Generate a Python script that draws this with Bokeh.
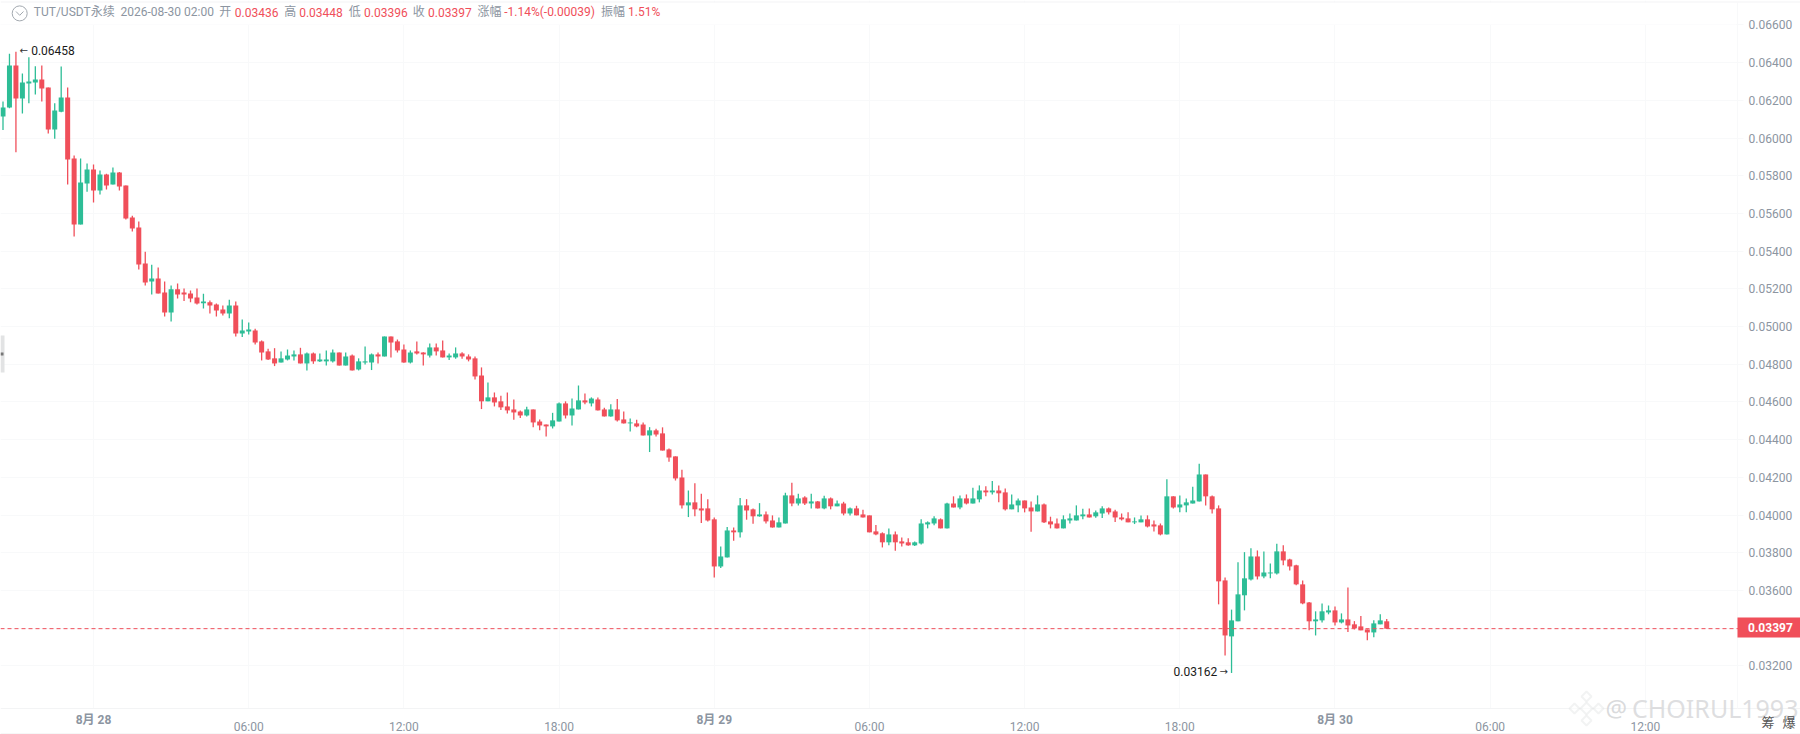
from bokeh.plotting import figure
from bokeh.embed import file_html
from bokeh.resources import INLINE
from bokeh.models import (ColumnDataSource, FixedTicker, LinearAxis, NumeralTickFormatter, Label,
                          Range1d, Span, BoxAnnotation, PolyAnnotation, Grid)

# ---- data: 15-minute candles ----
opens = [0.06114,0.06162,0.06385,0.06210,0.06289,0.06294,0.06310,0.06268,0.06045,0.06139,
0.06215,0.05891,0.05541,0.05759,0.05833,0.05722,0.05806,0.05753,0.05817,0.05748,
0.05578,0.05525,0.05334,0.05239,0.05255,0.05181,0.05074,0.05197,0.05181,0.05175,
0.05154,0.05124,0.05128,0.05117,0.05090,0.05069,0.05112,0.04963,0.04974,0.04979,
0.04921,0.04868,0.04831,0.04809,0.04825,0.04841,0.04852,0.04804,0.04857,0.04815,
0.04815,0.04815,0.04862,0.04793,0.04846,0.04772,0.04809,0.04809,0.04852,0.04841,
0.04947,0.04921,0.04878,0.04809,0.04868,0.04862,0.04846,0.04889,0.04873,0.04836,
0.04836,0.04857,0.04841,0.04831,0.04740,0.04603,0.04624,0.04603,0.04576,0.04560,
0.04549,0.04528,0.04560,0.04496,0.04480,0.04470,0.04496,0.04592,0.04528,0.04560,
0.04608,0.04592,0.04613,0.04560,0.04523,0.04560,0.04507,0.04486,0.04486,0.04480,
0.04422,0.04449,0.04433,0.04348,0.04311,0.04199,0.04051,0.04067,0.04035,0.04035,
0.03977,0.03727,0.03775,0.03918,0.03908,0.04051,0.04030,0.03993,0.04003,0.03971,
0.03934,0.03955,0.04104,0.04061,0.04093,0.04061,0.04072,0.04035,0.04088,0.04046,
0.04061,0.04008,0.04035,0.04003,0.03998,0.03913,0.03903,0.03855,0.03897,0.03860,
0.03855,0.03839,0.03849,0.03950,0.03955,0.03977,0.03929,0.04061,0.04040,0.04088,
0.04061,0.04083,0.04130,0.04120,0.04130,0.04120,0.04030,0.04051,0.04077,0.04040,
0.04019,0.04056,0.03966,0.03955,0.03929,0.03971,0.03971,0.03993,0.04003,0.03993,
0.04008,0.04035,0.04019,0.03987,0.03982,0.03961,0.03961,0.03977,0.03950,0.03945,
0.03897,0.04099,0.04040,0.04051,0.04061,0.04072,0.04215,0.04099,0.04035,0.03653,
0.03356,0.03436,0.03574,0.03658,0.03780,0.03674,0.03690,0.03690,0.03807,0.03764,
0.03733,0.03632,0.03536,0.03436,0.03441,0.03483,0.03494,0.03430,0.03446,0.03420,
0.03409,0.03393,0.03377,0.03420,0.03436]

highs = [0.06194,0.06447,0.06458,0.06342,0.06429,0.06381,0.06385,0.06268,0.06185,0.06379,
0.06268,0.05907,0.05891,0.05865,0.05860,0.05828,0.05810,0.05844,0.05819,0.05748,
0.05587,0.05557,0.05396,0.05327,0.05313,0.05239,0.05218,0.05228,0.05202,0.05191,
0.05202,0.05174,0.05138,0.05122,0.05112,0.05142,0.05133,0.05037,0.05021,0.04988,
0.04926,0.04882,0.04885,0.04868,0.04878,0.04873,0.04887,0.04862,0.04862,0.04857,
0.04873,0.04878,0.04862,0.04862,0.04852,0.04831,0.04894,0.04857,0.04862,0.04947,
0.04947,0.04931,0.04905,0.04873,0.04921,0.04864,0.04910,0.04910,0.04926,0.04857,
0.04889,0.04864,0.04852,0.04841,0.04783,0.04703,0.04650,0.04633,0.04650,0.04613,
0.04555,0.04574,0.04560,0.04507,0.04480,0.04542,0.04597,0.04603,0.04618,0.04687,
0.04645,0.04624,0.04624,0.04569,0.04587,0.04615,0.04549,0.04512,0.04505,0.04491,
0.04466,0.04458,0.04465,0.04353,0.04311,0.04240,0.04130,0.04168,0.04113,0.04084,
0.03987,0.03833,0.03936,0.03934,0.04090,0.04084,0.04035,0.04063,0.04019,0.03998,
0.03987,0.04118,0.04171,0.04113,0.04100,0.04113,0.04074,0.04102,0.04093,0.04077,
0.04070,0.04040,0.04049,0.04028,0.03998,0.03947,0.03908,0.03929,0.03913,0.03881,
0.03876,0.03860,0.03977,0.03966,0.03993,0.03982,0.04065,0.04099,0.04104,0.04109,
0.04145,0.04157,0.04152,0.04180,0.04157,0.04141,0.04109,0.04088,0.04077,0.04072,
0.04104,0.04061,0.03991,0.03982,0.03998,0.04008,0.04051,0.04033,0.04035,0.04024,
0.04046,0.04040,0.04028,0.04008,0.04014,0.03987,0.03998,0.03998,0.03971,0.03955,
0.04189,0.04099,0.04104,0.04088,0.04150,0.04272,0.04215,0.04104,0.04051,0.03669,
0.03498,0.03749,0.03803,0.03823,0.03812,0.03807,0.03743,0.03847,0.03839,0.03768,
0.03736,0.03653,0.03538,0.03489,0.03531,0.03520,0.03515,0.03478,0.03616,0.03437,
0.03464,0.03393,0.03441,0.03473,0.03448]

lows = [0.06043,0.06158,0.05925,0.06130,0.06185,0.06231,0.06194,0.06024,0.05996,0.06137,
0.05753,0.05478,0.05541,0.05715,0.05658,0.05700,0.05727,0.05753,0.05722,0.05568,
0.05504,0.05303,0.05218,0.05170,0.05175,0.05053,0.05027,0.05149,0.05135,0.05128,
0.05117,0.05096,0.05069,0.05053,0.05059,0.05044,0.04947,0.04944,0.04958,0.04905,
0.04820,0.04822,0.04790,0.04809,0.04820,0.04820,0.04804,0.04767,0.04802,0.04812,
0.04793,0.04809,0.04793,0.04793,0.04767,0.04767,0.04799,0.04769,0.04804,0.04841,
0.04836,0.04862,0.04808,0.04804,0.04852,0.04793,0.04836,0.04846,0.04836,0.04822,
0.04829,0.04829,0.04815,0.04719,0.04562,0.04603,0.04576,0.04557,0.04539,0.04505,
0.04514,0.04523,0.04465,0.04449,0.04417,0.04459,0.04496,0.04512,0.04475,0.04560,
0.04587,0.04576,0.04555,0.04523,0.04521,0.04496,0.04486,0.04443,0.04465,0.04422,
0.04334,0.04417,0.04342,0.04282,0.04183,0.04035,0.03989,0.03994,0.03957,0.03966,
0.03669,0.03719,0.03775,0.03864,0.03881,0.03975,0.03954,0.03991,0.03955,0.03933,
0.03934,0.03955,0.04046,0.04051,0.04053,0.04035,0.04035,0.04030,0.04030,0.04046,
0.03998,0.03998,0.03998,0.03987,0.03908,0.03892,0.03828,0.03839,0.03811,0.03833,
0.03837,0.03835,0.03844,0.03929,0.03945,0.03929,0.03929,0.04040,0.04030,0.04056,
0.04061,0.04067,0.04099,0.04109,0.04067,0.04024,0.04030,0.04014,0.04014,0.03911,
0.04019,0.03957,0.03929,0.03929,0.03929,0.03955,0.03971,0.03978,0.03987,0.03985,
0.03984,0.04003,0.03963,0.03971,0.03961,0.03952,0.03961,0.03934,0.03913,0.03892,
0.03897,0.04035,0.04014,0.04014,0.04061,0.04072,0.04051,0.04008,0.03526,0.03254,
0.03162,0.03436,0.03494,0.03653,0.03658,0.03664,0.03664,0.03685,0.03733,0.03706,
0.03627,0.03526,0.03388,0.03361,0.03430,0.03473,0.03414,0.03425,0.03379,0.03393,
0.03388,0.03335,0.03351,0.03420,0.03396]

closes = [0.06162,0.06385,0.06210,0.06294,0.06300,0.06310,0.06263,0.06045,0.06146,0.06215,
0.05886,0.05541,0.05764,0.05833,0.05722,0.05806,0.05748,0.05817,0.05743,0.05573,
0.05520,0.05329,0.05234,0.05255,0.05175,0.05074,0.05197,0.05170,0.05170,0.05149,
0.05122,0.05133,0.05112,0.05085,0.05069,0.05112,0.04963,0.04979,0.04984,0.04915,
0.04862,0.04825,0.04804,0.04831,0.04846,0.04852,0.04804,0.04857,0.04815,0.04825,
0.04825,0.04862,0.04793,0.04841,0.04767,0.04815,0.04815,0.04852,0.04841,0.04947,
0.04915,0.04873,0.04809,0.04862,0.04857,0.04852,0.04889,0.04868,0.04836,0.04846,
0.04857,0.04841,0.04825,0.04735,0.04603,0.04624,0.04597,0.04571,0.04555,0.04544,
0.04528,0.04560,0.04491,0.04475,0.04470,0.04502,0.04592,0.04528,0.04565,0.04608,
0.04597,0.04618,0.04555,0.04523,0.04560,0.04502,0.04486,0.04491,0.04470,0.04422,
0.04449,0.04427,0.04342,0.04305,0.04194,0.04051,0.04067,0.04030,0.04024,0.03971,
0.03727,0.03780,0.03918,0.03908,0.04051,0.04024,0.03993,0.04003,0.03966,0.03934,
0.03961,0.04104,0.04061,0.04088,0.04061,0.04072,0.04035,0.04088,0.04046,0.04061,
0.04008,0.04035,0.03998,0.03987,0.03908,0.03897,0.03855,0.03897,0.03855,0.03849,
0.03839,0.03855,0.03955,0.03961,0.03982,0.03929,0.04061,0.04040,0.04088,0.04061,
0.04088,0.04130,0.04120,0.04130,0.04115,0.04030,0.04056,0.04077,0.04035,0.04019,
0.04056,0.03961,0.03950,0.03929,0.03977,0.03982,0.03998,0.04003,0.03987,0.04014,
0.04035,0.04014,0.03987,0.03977,0.03961,0.03966,0.03977,0.03939,0.03939,0.03897,
0.04099,0.04040,0.04056,0.04067,0.04077,0.04215,0.04099,0.04030,0.03648,0.03361,
0.03441,0.03579,0.03664,0.03780,0.03674,0.03695,0.03695,0.03807,0.03759,0.03727,
0.03632,0.03531,0.03436,0.03446,0.03489,0.03494,0.03430,0.03446,0.03414,0.03399,
0.03388,0.03377,0.03425,0.03441,0.03397]

price_ticks = [0.032,0.034,0.036,0.038,0.040,0.042,0.044,0.046,0.048,0.050,0.052,0.054,0.056,0.058,0.060,0.062,0.064,0.066]
time_tick_idx = [38, 62, 86, 134, 158, 182, 230, 254]
time_tick_labels = ["06:00", "12:00", "18:00", "06:00", "12:00", "18:00", "06:00", "12:00"]
day_tick_idx = [14, 110, 206]
day_tick_labels = ["8月 28", "8月 29", "8月 30"]

header_texts = ["TUT/USDT永续", "2026-08-30 02:00", "开", "0.03436", "高", "0.03448", "低", "0.03396",
                "收", "0.03397", "涨幅", "-1.14%(-0.00039)", "振幅", "1.51%"]

# ---- style ----
RED = "#f04f5a"
GREEN = "#2dbd96"
GRID = "#f8f9fa"
TXT = "#8c95a1"
FONT = "Roboto, 'Noto Sans CJK SC', sans-serif"
W, H = 1800, 734
FRAME_R, FRAME_T, FRAME_B = 1737, 2, 708
X0, DX = 2.5, 6.466            # pixel of the first candle, pixels per candle
Y_TOP_PX, Y_TOP_V, PX_PER_UNIT = 24.4, 0.066, 18850.0

def px2x(px):
    return (px - X0) / DX

def px2y(py):
    return Y_TOP_V - (py - Y_TOP_PX) / PX_PER_UNIT

idx = list(range(len(closes)))
colors = [GREEN if c >= o else RED for o, c in zip(opens, closes)]
src = ColumnDataSource(dict(i=idx, o=opens, h=highs, l=lows, c=closes, col=colors,
                            top=[max(a, b) for a, b in zip(opens, closes)],
                            bot=[min(a, b) for a, b in zip(opens, closes)]))

# the frame fills the page; the axes are pinned inside it so that nothing outside the plot area is clipped
p = figure(width=W, height=H, output_backend="svg", toolbar_location=None,
           x_range=Range1d(px2x(0), px2x(W)), y_range=Range1d(px2y(H), px2y(0)),
           x_axis_type=None, y_axis_type=None, min_border=0,
           background_fill_color="white", border_fill_color="white", outline_line_color=None)

ax = LinearAxis(fixed_location=px2y(FRAME_B), ticker=FixedTicker(ticks=time_tick_idx))
ax.major_label_overrides = {i: t for i, t in zip(time_tick_idx, time_tick_labels)}
ax.major_tick_line_color = None
ax.minor_tick_line_color = None
ax.axis_line_color = "#f3f4f5"
ax.major_label_text_color = TXT
ax.major_label_text_font = FONT
ax.major_label_text_font_size = "12px"
ax.major_label_standoff = 5
p.add_layout(ax, "below")

ay = LinearAxis(fixed_location=px2x(FRAME_R), ticker=FixedTicker(ticks=price_ticks),
                formatter=NumeralTickFormatter(format="0.00000"), bounds=(px2y(FRAME_B), px2y(FRAME_T)))
ay.axis_line_color = GRID
ay.major_tick_line_color = GRID
ay.major_tick_in = 0
ay.major_tick_out = 6
ay.minor_tick_line_color = None
ay.major_label_text_color = TXT
ay.major_label_text_font = FONT
ay.major_label_text_font_size = "12px"
ay.major_label_standoff = 5
p.add_layout(ay, "right")

p.add_layout(Grid(dimension=0, ticker=FixedTicker(ticks=sorted(time_tick_idx + day_tick_idx)), grid_line_color=GRID))
p.add_layout(Grid(dimension=1, ticker=FixedTicker(ticks=price_ticks), grid_line_color=GRID))

# white bands that end the grid at the axes
p.quad(left=[px2x(0), px2x(FRAME_R)], right=[px2x(W), px2x(W)], top=[px2y(FRAME_B), px2y(0)],
       bottom=[px2y(H), px2y(H)], fill_color="white", line_color=None)

# candles
p.segment(x0="i", x1="i", y0="l", y1="h", color="col", line_width=1.3, source=src)
p.vbar(x="i", width=5.0 / DX, top="top", bottom="bot", fill_color="col", line_color=None, source=src)

# last price
p.add_layout(Span(location=closes[-1], dimension="width", line_color=RED, line_width=1, line_dash="4 3"))

def box(l, r, t, b, color):
    p.add_layout(BoxAnnotation(left=l, right=r, top=t, bottom=b, left_units="canvas", right_units="canvas",
                               top_units="canvas", bottom_units="canvas", fill_color=color, fill_alpha=1,
                               line_color=None))

# header band, frame lines, price tag, left handle
box(0, FRAME_R - 1, 2, 24, "white")
box(0, W, 1, 2, "#f3f4f5")
box(0, W, 733, 734, "#eeeff0")
box(1737, W, 617, 637, RED)
box(0, 4, 335, 372, "#e2e3e4")
box(0, 3, 352, 355, "#777777")

def label(x, y, text, color=TXT, size="12px", style="normal", align="left", font=FONT, alpha=1.0):
    p.add_layout(Label(x=px2x(x), y=px2y(y), text=text, text_color=color, text_font_size=size,
                       text_font_style=style, text_align=align, text_baseline="middle",
                       text_font=font, text_alpha=alpha))

# header
header_x = [33.3, 120, 218.7, 234.3, 283.7, 298.7, 348.3, 363.6, 412.3, 427.5, 477, 503.7, 600.6, 627.6]
for k, (tx, hx) in enumerate(zip(header_texts, header_x)):
    col = RED if k in (3, 5, 7, 9, 11, 13) else TXT
    label(hx, 11.5, tx, color=col)

# header icon
p.scatter(x=[px2x(19.2)], y=[px2y(12.9)], size=15, marker="circle", fill_color=None, line_color="#a3a9b0", line_width=1, level="overlay")
p.line(x=[px2x(15.5), px2x(19.2), px2x(23)], y=[px2y(11), px2y(14.8), px2y(11)], line_color="#a3a9b0", line_width=1, level="overlay")

# extremes
label(30.7, 49.7, "0.06458", color="#1a1a1a")
label(19, 50, "←", color="#333333", size="10px", font="DejaVu Sans")
label(1173, 670.7, "0.03162", color="#1a1a1a")
label(1219, 671, "→", color="#333333", size="10px", font="DejaVu Sans")

# price tag text
label(1747.5, 627, "0.03397", color="white", style="bold")

# day labels on the time axis
for d, t in zip(day_tick_idx, day_tick_labels):
    p.add_layout(Label(x=d, y=px2y(719), text=t, text_color=TXT, text_font=FONT, text_font_size="12px",
                       text_font_style="bold", text_align="center", text_baseline="middle"))

# watermark
WM = "#d5d6d8"
for cx, cy, r in [(1586, 708, 6), (1586, 696, 5), (1586, 720, 5), (1574, 708, 5), (1598, 708, 5)]:
    p.add_layout(PolyAnnotation(xs=[cx - r, cx, cx + r, cx], ys=[cy, cy - r, cy, cy + r],
                                xs_units="canvas", ys_units="canvas", fill_color="white", fill_alpha=0.5,
                                line_color=WM, line_width=2))
label(1605, 707, "@", color=WM, size="24px", font="'Noto Sans', sans-serif", alpha=0.9)
label(1631.5, 707, "CHOIRUL1993", color=WM, size="25px", font="'Noto Sans', sans-serif", alpha=0.8)
label(1761, 720.5, "筹", color="#555555", size="13px", font="'Noto Sans CJK SC'")
label(1782, 720.5, "爆", color="#555555", size="13px", font="'Noto Sans CJK SC'")

assert len(opens) == len(highs) == len(lows) == len(closes) == 215

open("out.html", "w").write(file_html(p, INLINE))
